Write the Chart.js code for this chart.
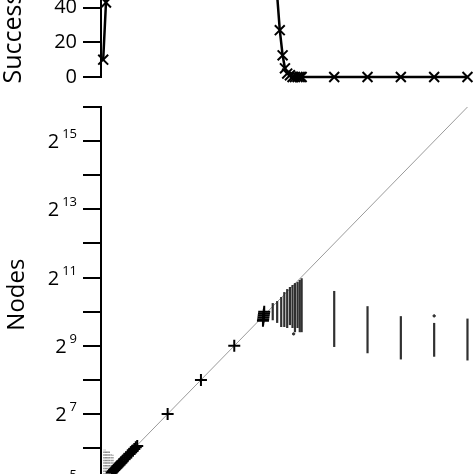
<!DOCTYPE html>
<html>
<head>
<meta charset="utf-8">
<script src="https://cdn.jsdelivr.net/npm/chart.js@4.4.1/dist/chart.umd.min.js"></script>
<style>
  html, body { margin: 0; padding: 0; background: #fff; width: 474px; height: 474px; overflow: hidden; }
  #wrap { position: relative; width: 474px; height: 474px; overflow: hidden; }
  #successChart { position: absolute; left: 0; top: -120px; }
  #nodesChart { position: absolute; left: 0; top: 85px; }
</style>
</head>
<body>
<div id="wrap">
  <canvas id="successChart" width="474" height="215"></canvas>
  <canvas id="nodesChart" width="474" height="440"></canvas>
</div>
<script>
// top panel: success rate (%) against N
const successN    = [33.5, 35.5, 37, 39, 42, 46, 50, 56, 64, 128, 256, 512, 960, 1100, 1200, 1320, 1400, 1470, 1540, 1630, 1720, 1810, 1910, 2000, 2080, 4096, 8192, 16384, 32768, 65536];
const successRate = [10, 43, 80, 97, 100, 100, 100, 100, 100, 100, 100, 100, 100, 88, 62, 27, 12.5, 5, 2, 1, 0, 0, 0, 0, 0, 0, 0, 0, 0, 0];

// bottom panel: '+' markers (nodes used)
const plusN     = [40, 41, 42, 43, 44, 45, 46, 47, 48, 49, 50, 52, 54, 56, 58, 60, 62, 64, 66, 68, 128, 256, 512, 930, 935, 940, 945, 950, 955];
const plusNodes = [39, 40, 41, 42, 43, 44, 45, 46, 47, 48, 49, 51, 53, 55, 57, 59, 61, 63, 65, 67, 128, 256, 512, 850, 880, 915, 950, 985, 1020];

// bottom panel: vertical spreads of nodes per N (low / high)
const stripeN    = [1140, 1250, 1360, 1450, 1540, 1630, 1720, 1810, 1910, 2000, 2080, 4096, 8192, 16384, 32768, 65536];
const stripeLow  = [860, 815, 750, 750, 735, 780, 735, 675, 735, 675, 675, 500, 440, 388, 410, 380];
const stripeHigh = [1220, 1270, 1380, 1525, 1620, 1690, 1760, 1830, 1870, 1950, 2020, 1560, 1145, 935, 815, 890];

// small grey spreads near the origin
const greyN    = [34, 35, 36, 37, 38, 39.5, 41];
const greyLow  = [30, 30, 30, 30, 30, 30, 30];
const greyHigh = [62, 62, 61, 61, 60, 58, 56];

// stray points
const strayN     = [1760, 32768];
const strayNodes = [652, 940];

// tick labels
const nodeTickExps = [5, 6, 7, 8, 9, 10, 11, 12, 13, 14, 15, 16];
const labelledExps = [5, 7, 9, 11, 13, 15];

Chart.defaults.font.family = '"Open Sans", "DejaVu Sans", sans-serif';
Chart.defaults.color = '#000';

function fixedWidth(axis) { axis.width = 101; }

// top chart
new Chart(document.getElementById('successChart'), {
    type: 'scatter',
    data: {
        datasets: [{
            data: successN.map((n, i) => ({ x: n, y: successRate[i] })),
            showLine: true,
            borderColor: '#000',
            borderWidth: 2.5,
            pointStyle: 'crossRot',
            pointRadius: 7,
            pointBorderWidth: 2,
            pointBorderColor: '#000',
            clip: false
        }]
    },
    options: {
        responsive: false,
        animation: false,
        events: [],
        layout: { autoPadding: false, padding: { top: 23.7, bottom: 18, left: 0, right: 2 } },
        plugins: { legend: { display: false }, tooltip: { enabled: false } },
        scales: {
            x: { type: 'logarithmic', bounds: 'data', min: 32, max: 72000, display: false },
            y: {
                min: 0, max: 100,
                afterFit: fixedWidth,
                border: { display: true, color: '#000', width: 2 },
                grid: { drawOnChartArea: false, drawTicks: true, tickLength: 18, color: '#000', lineWidth: 2 },
                ticks: {
                    stepSize: 10,
                    padding: 6,
                    font: { size: 20 },
                    callback: v => (v % 20 === 0 ? String(v) : '')
                },
                title: {
                    display: true,
                    text: 'Success rate (%)',
                    font: { size: 25, lineHeight: 1 },
                    padding: { top: 1.5, bottom: 0 }
                }
            }
        }
    }
});

// superscript tick labels for the log2 axis
const powerLabels = {
    id: 'powerLabels',
    afterDraw(chart) {
        const scale = chart.scales.y;
        const ctx = chart.ctx;
        const right = scale.right - scale.options.grid.tickLength - 6;
        ctx.save();
        ctx.fillStyle = '#000';
        ctx.textBaseline = 'alphabetic';
        labelledExps.forEach(e => {
            const py = scale.getPixelForValue(Math.pow(2, e));
            const sup = String(e);
            ctx.font = '13px "Open Sans"';
            const supW = ctx.measureText(sup).width;
            ctx.textAlign = 'left';
            ctx.fillText(sup, right - supW, py - 3);
            ctx.font = '20px "Open Sans"';
            ctx.textAlign = 'right';
            ctx.fillText('2', right - supW - 3, py + 7);
        });
        ctx.restore();
    }
};

const nodeSets = [];
stripeN.forEach((n, i) => {
    nodeSets.push({
        data: [{ x: n, y: stripeLow[i] }, { x: n, y: stripeHigh[i] }],
        showLine: true, borderColor: '#303030', borderWidth: 2.2,
        pointRadius: 0, clip: false, order: 2
    });
});
greyN.forEach((n, i) => {
    nodeSets.push({
        data: [{ x: n, y: greyLow[i] }, { x: n, y: greyHigh[i] }],
        showLine: true, borderColor: '#8c8c8c', borderWidth: 1.4, borderDash: [1.5, 1.2],
        pointRadius: 0, clip: false, order: 3
    });
});
nodeSets.push({
    data: strayN.map((n, i) => ({ x: n, y: strayNodes[i] })),
    showLine: false, pointStyle: 'circle', pointRadius: 1.2,
    backgroundColor: '#333', borderColor: '#333', clip: false, order: 2
});
nodeSets.push({
    data: plusN.map((n, i) => ({ x: n, y: plusNodes[i] })),
    showLine: false, pointStyle: 'cross', pointRadius: 6,
    pointBorderWidth: 2, borderColor: '#000', clip: false, order: 1
});
nodeSets.push({
    data: [{ x: 32, y: 32 }, { x: 65536, y: 65536 }],
    showLine: true, borderColor: '#9a9a9a', borderWidth: 1,
    pointRadius: 0, clip: false, order: 5
});

// bottom chart
new Chart(document.getElementById('nodesChart'), {
    type: 'scatter',
    data: { datasets: nodeSets },
    options: {
        responsive: false,
        animation: false,
        events: [],
        layout: { autoPadding: false, padding: { top: 22, bottom: 42.75, left: 0, right: 2 } },
        plugins: { legend: { display: false }, tooltip: { enabled: false } },
        scales: {
            x: { type: 'logarithmic', bounds: 'data', min: 32, max: 72000, display: false },
            y: {
                type: 'logarithmic',
                bounds: 'data',
                min: 32, max: 65536,
                afterFit: fixedWidth,
                afterBuildTicks: axis => {
                    axis.ticks = nodeTickExps.map(e => ({ value: Math.pow(2, e) }));
                },
                border: { display: true, color: '#000', width: 2 },
                grid: { drawOnChartArea: false, drawTicks: true, tickLength: 18, color: '#000', lineWidth: 2 },
                ticks: { display: false },
                title: {
                    display: true,
                    text: 'Nodes',
                    font: { size: 24, lineHeight: 1 },
                    padding: { top: 5.5, bottom: 0 }
                }
            }
        }
    },
    plugins: [powerLabels]
});
</script>
</body>
</html>
